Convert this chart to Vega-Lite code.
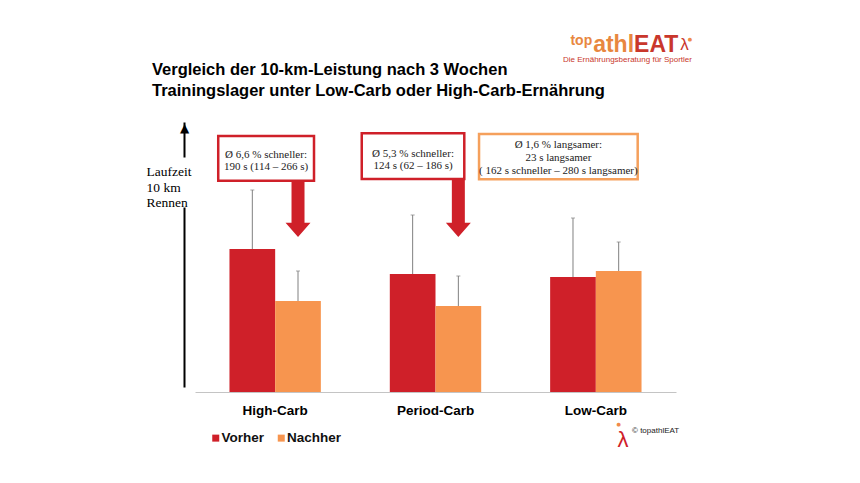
{
  "$schema": "https://vega.github.io/schema/vega-lite/v6.json",
  "width": 481,
  "height": 270,
  "autosize": {"type": "none"},
  "padding": {"left": 195, "top": 122, "right": 184, "bottom": 91},
  "background": "white",
  "config": {"view": {"stroke": null}, "font": "Liberation Sans"},
  "title": {
    "text": ["Vergleich der 10-km-Leistung nach 3 Wochen", "Trainingslager unter Low-Carb oder High-Carb-Ernährung"],
    "anchor": "start", "frame": "group", "dx": -43, "dy": 87, "offset": 22,
    "lineHeight": 21, "font": "Liberation Sans", "fontSize": 16.5, "fontWeight": "bold", "color": "#000"
  },
  "datasets": {
    "balken": [
      {"Kategorie": "High-Carb", "Zeitpunkt": "Vorher", "Laufzeit": 143, "Oben": 202},
      {"Kategorie": "High-Carb", "Zeitpunkt": "Nachher", "Laufzeit": 91, "Oben": 121},
      {"Kategorie": "Period-Carb", "Zeitpunkt": "Vorher", "Laufzeit": 118, "Oben": 177},
      {"Kategorie": "Period-Carb", "Zeitpunkt": "Nachher", "Laufzeit": 86, "Oben": 116},
      {"Kategorie": "Low-Carb", "Zeitpunkt": "Vorher", "Laufzeit": 115, "Oben": 174},
      {"Kategorie": "Low-Carb", "Zeitpunkt": "Nachher", "Laufzeit": 121, "Oben": 150}
    ]
  },
  "layer": [
    {
      "data": {"name": "balken"},
      "mark": {"type": "bar"},
      "encoding": {
        "x": {
          "field": "Kategorie", "type": "nominal", "sort": ["High-Carb", "Period-Carb", "Low-Carb"],
          "scale": {"domain": ["High-Carb", "Period-Carb", "Low-Carb"], "paddingInner": 0.43, "paddingOuter": 0.215},
          "axis": {"title": null, "orient": "bottom", "domainColor": "#c4c4c4", "domainWidth": 1, "ticks": false,
            "labelFont": "Liberation Sans", "labelFontWeight": "bold", "labelFontSize": 13.5, "labelColor": "#000",
            "labelPadding": 11, "labelAngle": 0}
        },
        "xOffset": {"field": "Zeitpunkt", "type": "nominal", "sort": ["Vorher", "Nachher"],
          "scale": {"domain": ["Vorher", "Nachher"], "paddingInner": 0, "paddingOuter": 0}},
        "y": {
          "field": "Laufzeit", "type": "quantitative",
          "scale": {"domain": [0, 270], "nice": false},
          "axis": {"title": ["Laufzeit", "10 km", "Rennen"], "orient": "left", "offset": 11,
            "domainColor": "#000", "domainWidth": 2, "domainDash": [0, 5, 180, 50, 40],
            "ticks": false, "tickSize": 0, "grid": false, "values": [270], "labelExpr": "'▲'",
            "labelFont": "DejaVu Sans", "labelFontSize": 12, "labelAlign": "center", "labelBaseline": "top",
            "labelPadding": 0, "labelFlush": false, "labelColor": "#000",
            "titleAngle": 0, "titleAlign": "left", "titleBaseline": "alphabetic", "titleX": -38, "titleY": 53.7,
            "titleFont": "Liberation Serif", "titleFontSize": 13.5, "titleFontWeight": "normal", "titleColor": "#000",
            "titleLineHeight": 15.5}
        },
        "color": {
          "field": "Zeitpunkt", "type": "nominal", "sort": ["Vorher", "Nachher"],
          "scale": {"domain": ["Vorher", "Nachher"], "range": ["#cf2029", "#f7954f"]},
          "legend": {"title": null, "orient": "none", "legendX": 14, "legendY": 309, "direction": "horizontal",
            "symbolType": "square", "symbolSize": 49, "symbolStrokeWidth": 0, "labelFont": "Liberation Sans",
            "labelFontWeight": "bold", "labelFontSize": 13.5, "labelColor": "#111", "labelOffset": -1,
            "columnPadding": 9.5, "padding": 0}
        }
      }
    },
    {
      "data": {"name": "balken"},
      "mark": {"type": "rule", "color": "#808080", "strokeWidth": 1},
      "encoding": {
        "x": {"field": "Kategorie", "type": "nominal"},
        "xOffset": {"field": "Zeitpunkt", "type": "nominal"},
        "y": {"field": "Laufzeit", "type": "quantitative"},
        "y2": {"field": "Oben"}
      }
    },
    {
      "data": {"name": "balken"},
      "mark": {"type": "tick", "color": "#808080", "thickness": 1, "size": 4},
      "encoding": {
        "x": {"field": "Kategorie", "type": "nominal"},
        "xOffset": {"field": "Zeitpunkt", "type": "nominal"},
        "y": {"field": "Oben", "type": "quantitative"}
      }
    },
    {
      "data": {"values": [
        {"Kategorie": "High-Carb", "Zeitpunkt": "Nachher"},
        {"Kategorie": "Period-Carb", "Zeitpunkt": "Nachher"}
      ]},
      "mark": {"type": "point", "filled": true, "opacity": 1, "color": "#cf2029", "strokeWidth": 0,
        "shape": "M-0.224,-1L0.224,-1L0.224,0.507L0.43,0.507L0,1L-0.43,0.507L-0.224,0.507Z",
        "size": 3364, "xOffset": -5.5},
      "encoding": {
        "x": {"field": "Kategorie", "type": "nominal"},
        "xOffset": {"field": "Zeitpunkt", "type": "nominal"},
        "y": {"datum": 184}
      }
    },
    {
      "data": {"values": [{"Kategorie": "High-Carb"}]},
      "mark": {"type": "rect", "fill": "white", "stroke": "#cf2029", "strokeWidth": 2.5},
      "encoding": {
        "x": {"field": "Kategorie", "type": "nominal", "bandPosition": -0.123},
        "x2": {"field": "Kategorie", "bandPosition": 0.925},
        "y": {"datum": 256}, "y2": {"datum": 211.3}
      }
    },
    {
      "data": {"values": [{"Kategorie": "Period-Carb"}]},
      "mark": {"type": "rect", "fill": "white", "stroke": "#cf2029", "strokeWidth": 2.5},
      "encoding": {
        "x": {"field": "Kategorie", "type": "nominal", "bandPosition": -0.307},
        "x2": {"field": "Kategorie", "bandPosition": 0.815},
        "y": {"datum": 258.7}, "y2": {"datum": 213}
      }
    },
    {
      "data": {"values": [{"Kategorie": "Low-Carb"}]},
      "mark": {"type": "rect", "fill": "white", "stroke": "#f5a05c", "strokeWidth": 2.5},
      "encoding": {
        "x": {"field": "Kategorie", "type": "nominal", "bandPosition": -0.778},
        "x2": {"field": "Kategorie", "bandPosition": 0.958},
        "y": {"datum": 258}, "y2": {"datum": 212.7}
      }
    },
    {
      "data": {"values": [{"Kategorie": "High-Carb", "Text": "Ø 6,6 % schneller:\n190 s (114 – 266 s)"}]},
      "mark": {"type": "text", "font": "Liberation Serif", "fontSize": 11, "lineHeight": 12.5, "lineBreak": "\n",
        "align": "center", "baseline": "alphabetic", "color": "#222"},
      "encoding": {
        "x": {"field": "Kategorie", "type": "nominal", "bandPosition": 0.40},
        "y": {"datum": 234.5},
        "text": {"field": "Text"}
      }
    },
    {
      "data": {"values": [{"Kategorie": "Period-Carb", "Text": "Ø 5,3 % schneller:\n124 s (62 – 186 s)"}]},
      "mark": {"type": "text", "font": "Liberation Serif", "fontSize": 11, "lineHeight": 12.5, "lineBreak": "\n",
        "align": "center", "baseline": "alphabetic", "color": "#222"},
      "encoding": {
        "x": {"field": "Kategorie", "type": "nominal", "bandPosition": 0.254},
        "y": {"datum": 235.3},
        "text": {"field": "Text"}
      }
    },
    {
      "data": {"values": [{"Kategorie": "Low-Carb", "Text": "Ø 1,6 % langsamer:\n23 s langsamer\n( 162 s schneller – 280 s langsamer)"}]},
      "mark": {"type": "text", "font": "Liberation Serif", "fontSize": 11, "lineHeight": 12.8, "lineBreak": "\n",
        "align": "center", "baseline": "alphabetic", "color": "#222"},
      "encoding": {
        "x": {"field": "Kategorie", "type": "nominal", "bandPosition": 0.09},
        "y": {"datum": 244},
        "text": {"field": "Text"}
      }
    },
    {
      "data": {"values": [{"Text": "top"}]},
      "mark": {"type": "text", "fontSize": 14, "fontWeight": "bold", "align": "right", "baseline": "alphabetic", "color": "#e8873f"},
      "encoding": {
        "x": {"datum": "Low-Carb", "type": "nominal", "bandPosition": 0.46},
        "y": {"datum": 347},
        "text": {"field": "Text"}
      }
    },
    {
      "data": {"values": [{"Text": "athl"}]},
      "mark": {"type": "text", "fontSize": 23, "fontWeight": "bold", "align": "right", "baseline": "alphabetic", "color": "#e8873f"},
      "encoding": {
        "x": {"datum": "Low-Carb", "type": "nominal", "bandPosition": 0.918},
        "y": {"datum": 339.7},
        "text": {"field": "Text"}
      }
    },
    {
      "data": {"values": [{"Text": "EAT"}]},
      "mark": {"type": "text", "fontSize": 23, "fontWeight": "bold", "align": "left", "baseline": "alphabetic", "color": "#c9372c"},
      "encoding": {
        "x": {"datum": "Low-Carb", "type": "nominal", "bandPosition": 0.918},
        "y": {"datum": 339.7},
        "text": {"field": "Text"}
      }
    },
    {
      "data": {"values": [{"Text": "λ"}]},
      "mark": {"type": "text", "fontSize": 17, "align": "center", "baseline": "alphabetic", "color": "#c9372c"},
      "encoding": {
        "x": {"datum": "Low-Carb", "type": "nominal", "bandPosition": 1.47},
        "y": {"datum": 342},
        "text": {"field": "Text"}
      }
    },
    {
      "data": {"values": [{"Text": "●"}]},
      "mark": {"type": "text", "font": "DejaVu Sans", "fontSize": 5, "align": "center", "baseline": "middle", "color": "#f08a4b"},
      "encoding": {
        "x": {"datum": "Low-Carb", "type": "nominal", "bandPosition": 1.53},
        "y": {"datum": 353},
        "text": {"field": "Text"}
      }
    },
    {
      "data": {"values": [{"Text": "Die Ernährungsberatung für Sportler"}]},
      "mark": {"type": "text", "fontSize": 8, "align": "left", "baseline": "alphabetic", "color": "#c9372c"},
      "encoding": {
        "x": {"datum": "Low-Carb", "type": "nominal", "bandPosition": 0.141},
        "y": {"datum": 330},
        "text": {"field": "Text"}
      }
    },
    {
      "data": {"values": [{"Text": "λ"}]},
      "mark": {"type": "text", "fontSize": 22, "align": "center", "baseline": "alphabetic", "color": "#cf2029"},
      "encoding": {
        "x": {"datum": "Low-Carb", "type": "nominal", "bandPosition": 0.798},
        "y": {"datum": -54.7},
        "text": {"field": "Text"}
      }
    },
    {
      "data": {"values": [{"Text": "●"}]},
      "mark": {"type": "text", "font": "DejaVu Sans", "fontSize": 5, "align": "center", "baseline": "middle", "color": "#f08a4b"},
      "encoding": {
        "x": {"datum": "Low-Carb", "type": "nominal", "bandPosition": 0.75},
        "y": {"datum": -32},
        "text": {"field": "Text"}
      }
    },
    {
      "data": {"values": [{"Text": "© topathlEAT"}]},
      "mark": {"type": "text", "fontSize": 8, "align": "left", "baseline": "alphabetic", "color": "#222"},
      "encoding": {
        "x": {"datum": "Low-Carb", "type": "nominal", "bandPosition": 0.896},
        "y": {"datum": -40.7},
        "text": {"field": "Text"}
      }
    }
  ]
}
